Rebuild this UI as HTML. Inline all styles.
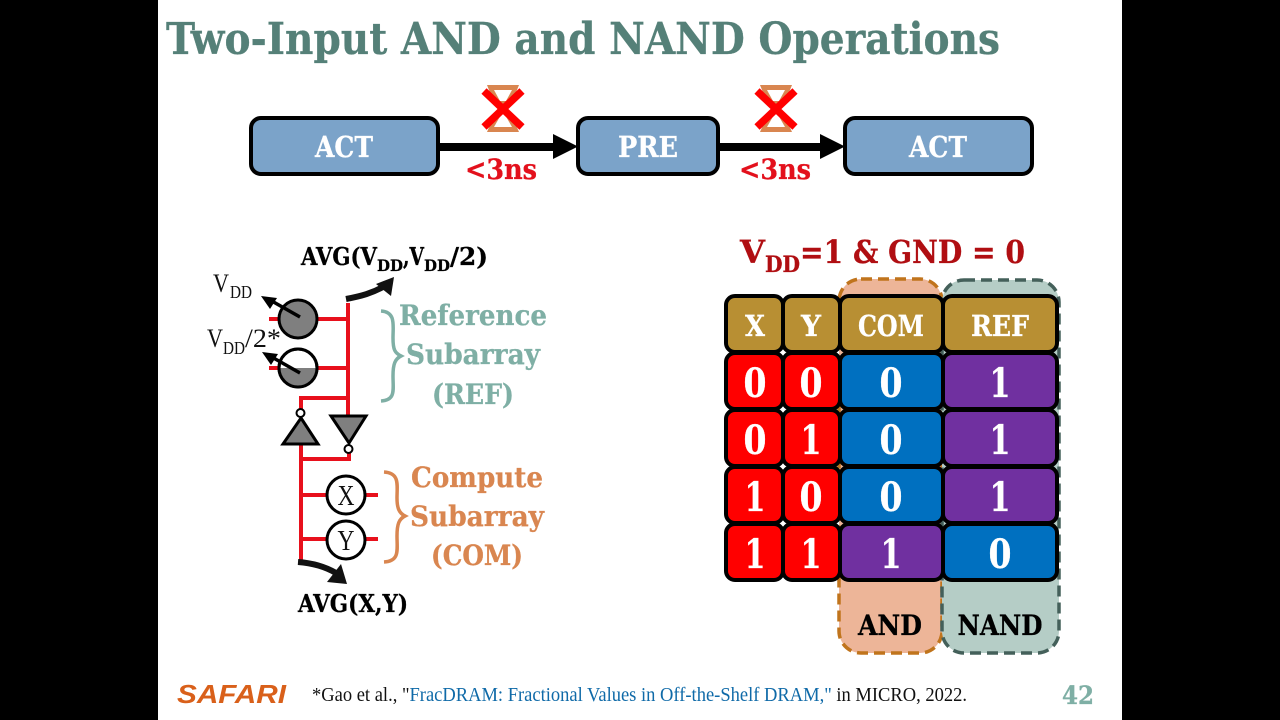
<!DOCTYPE html>
<html><head><meta charset="utf-8"><style>
html,body{margin:0;padding:0;background:#000;width:1280px;height:720px;overflow:hidden}
svg{display:block}
text{font-family:"Liberation Serif",serif}
g[font-weight="bold"] text,text[font-weight="bold"]{font-family:"DejaVu Serif","Liberation Serif",serif;stroke:currentColor;stroke-width:.3}
</style></head><body>
<svg width="1280" height="720" viewBox="0 0 1280 720" xmlns="http://www.w3.org/2000/svg">
<rect width="1280" height="720" fill="#000"/>
<rect x="158" y="0" width="964" height="720" fill="#fff"/>
<text font-weight="bold" x="166" y="54" font-size="44" fill="#558078" color="#558078" textLength="834" lengthAdjust="spacingAndGlyphs">Two-Input AND and NAND Operations</text>

<!-- top flow -->
<g stroke="#000" stroke-width="4" fill="#7BA3C9">
<rect x="251" y="118" width="187" height="56" rx="10"/>
<rect x="578" y="118" width="140" height="56" rx="10"/>
<rect x="845" y="118" width="187" height="56" rx="10"/>
</g>
<g font-size="29" fill="#fff" color="#fff" text-anchor="middle" font-weight="bold">
<text x="344" y="157" textLength="58" lengthAdjust="spacingAndGlyphs">ACT</text>
<text x="648" y="157" textLength="60" lengthAdjust="spacingAndGlyphs">PRE</text>
<text x="938" y="157" textLength="58" lengthAdjust="spacingAndGlyphs">ACT</text>
</g>
<rect x="438" y="143" width="118" height="8" fill="#000"/>
<polygon points="553,134 578,146.500 553,159" fill="#000"/>
<rect x="718" y="143" width="104" height="8" fill="#000"/>
<polygon points="820,134 845,146.500 820,159" fill="#000"/>
<g font-weight="bold" font-size="28" fill="#e3101c" color="#e3101c">
<text x="465" y="179" textLength="72" lengthAdjust="spacingAndGlyphs">&lt;3ns</text>
<text x="739" y="179" textLength="72" lengthAdjust="spacingAndGlyphs">&lt;3ns</text>
</g>
<defs>
<g id="hg">
<polygon points="-16,-24 16,-24 12,-14 3,-1 3,1 12,14 16,23 -16,23 -12,14 -3,1 -3,-1 -12,-14" fill="#D98650"/>
<polygon points="-9,-19 9,-19 3,-8 -3,-8" fill="#fff"/>
<polygon points="-1,4 1,4 9,18 -9,18" fill="#fff"/>
<path d="M-19,-18 L19,18 M19,-18 L-19,18" stroke="#f00" stroke-width="7.500"/>
</g>
</defs>
<use href="#hg" x="503" y="109"/>
<use href="#hg" x="776" y="109"/>

<!-- Left circuit -->
<g stroke="#e8101c" stroke-width="4" fill="none">
<path d="M348,303 V416"/>
<path d="M269,319 H348 M269,368 H348"/>
<path d="M301,410 V398 H348"/>
<path d="M301,442 V563"/>
<path d="M349,445 V459 H301"/>
<path d="M301,495 H378 M301,539 H378"/>
</g>
<circle cx="298" cy="319" r="19" fill="#7f7f7f" stroke="#000" stroke-width="3"/>
<circle cx="298" cy="368" r="19" fill="#fff" stroke="#000" stroke-width="3"/>
<path d="M279.500,368 A18.500,18.500 0 0 0 316.500,368 Z" fill="#7f7f7f"/>
<circle cx="298" cy="368" r="19" fill="none" stroke="#000" stroke-width="3"/>
<g stroke="#000" stroke-width="3.500" fill="#000">
<line x1="300" y1="317" x2="270" y2="300"/>
<line x1="300" y1="373" x2="270" y2="356"/>
</g>
<polygon points="261,296 277,298 270,309" fill="#000"/>
<polygon points="262,352 278,354 271,365" fill="#000"/>
<polygon points="301,418 318,444 283,444" fill="#7f7f7f" stroke="#000" stroke-width="3"/>
<circle cx="300.500" cy="413" r="4" fill="#fff" stroke="#000" stroke-width="2"/>
<polygon points="331,416 366,416 349,443" fill="#7f7f7f" stroke="#000" stroke-width="3"/>
<circle cx="348.500" cy="449" r="4" fill="#fff" stroke="#000" stroke-width="2"/>
<circle cx="346" cy="495" r="19" fill="#fff" stroke="#000" stroke-width="3"/>
<circle cx="346" cy="540" r="19" fill="#fff" stroke="#000" stroke-width="3"/>
<g font-size="29" fill="#111" text-anchor="middle">
<text x="346" y="505" textLength="17" lengthAdjust="spacingAndGlyphs">X</text>
<text x="346" y="550" textLength="17" lengthAdjust="spacingAndGlyphs">Y</text>
</g>
<path d="M346,299 C362,296 372,293 383,287" stroke="#111" stroke-width="6" fill="none"/>
<polygon points="394,277 391,296 376,284" fill="#111"/>
<path d="M298,562 C312,563 324,566 336,573" stroke="#111" stroke-width="6" fill="none"/>
<polygon points="347,584 327,582 341,564" fill="#111"/>

<g font-size="26" fill="#111">
<text x="213" y="292" textLength="16" lengthAdjust="spacingAndGlyphs">V</text>
<text x="230" y="298" font-size="18" textLength="22" lengthAdjust="spacingAndGlyphs">DD</text>
<text x="207" y="347" textLength="16" lengthAdjust="spacingAndGlyphs">V</text>
<text x="223" y="354" font-size="18" textLength="22" lengthAdjust="spacingAndGlyphs">DD</text>
<text x="245" y="347" textLength="36" lengthAdjust="spacingAndGlyphs">/2*</text>
</g>
<g font-weight="bold" fill="#000" color="#000">
<text x="301" y="265" font-size="24" textLength="76" lengthAdjust="spacingAndGlyphs">AVG(V</text>
<text x="377" y="271" font-size="16" textLength="26" lengthAdjust="spacingAndGlyphs">DD</text>
<text x="403" y="265" font-size="24" textLength="21" lengthAdjust="spacingAndGlyphs">,V</text>
<text x="424" y="271" font-size="16" textLength="26" lengthAdjust="spacingAndGlyphs">DD</text>
<text x="450" y="265" font-size="24" textLength="38" lengthAdjust="spacingAndGlyphs">/2)</text>
<text x="298" y="612" font-size="24" textLength="110" lengthAdjust="spacingAndGlyphs">AVG(X,Y)</text>
</g>

<!-- braces -->
<path d="M381,311 C396,312 393,325 393,338 C393,350 395,353 401,356 C395,359 393,364 393,376 C393,390 396,400 381,401" fill="none" stroke="#7FAFA5" stroke-width="3.500"/>
<path d="M384,472 C400,473 397,485 397,498 C397,508 399,513 405,516 C399,519 397,524 397,536 C397,550 400,561 384,562" fill="none" stroke="#D98650" stroke-width="3.500"/>
<g font-weight="bold" font-size="28" text-anchor="middle" fill="#7FAFA5" color="#7FAFA5">
<text x="473" y="325" textLength="148" lengthAdjust="spacingAndGlyphs">Reference</text>
<text x="473" y="364" textLength="134" lengthAdjust="spacingAndGlyphs">Subarray</text>
<text x="473" y="404" textLength="82" lengthAdjust="spacingAndGlyphs">(REF)</text>
</g>
<g font-weight="bold" font-size="28" text-anchor="middle" fill="#D98650" color="#D98650">
<text x="477" y="487" textLength="132" lengthAdjust="spacingAndGlyphs">Compute</text>
<text x="477" y="526" textLength="134" lengthAdjust="spacingAndGlyphs">Subarray</text>
<text x="477" y="565" textLength="92" lengthAdjust="spacingAndGlyphs">(COM)</text>
</g>

<!-- right heading -->
<g font-weight="bold" fill="#B00E12" color="#B00E12">
<text x="740" y="263" font-size="32" textLength="25" lengthAdjust="spacingAndGlyphs">V</text>
<text x="765" y="272" font-size="22" textLength="35" lengthAdjust="spacingAndGlyphs">DD</text>
<text x="800" y="263" font-size="32" textLength="225" lengthAdjust="spacingAndGlyphs">=1 &amp; GND = 0</text>
</g>

<!-- dashed columns -->
<rect x="839" y="279" width="103" height="374" rx="22" fill="#EDB598" stroke="#C0741C" stroke-width="3.500" stroke-dasharray="11 6"/>
<rect x="942" y="280" width="117" height="373" rx="22" fill="#B5CDC6" stroke="#44605A" stroke-width="3.500" stroke-dasharray="11 6"/>

<!-- table -->
<g stroke="#000" stroke-width="4">
<g fill="#B88F33">
<rect x="726" y="296" width="57" height="56" rx="9"/>
<rect x="783" y="296" width="57" height="56" rx="9"/>
<rect x="840" y="296" width="103" height="56" rx="9"/>
<rect x="943" y="296" width="114" height="56" rx="9"/>
</g>
<g fill="#f00">
<rect x="726" y="353" width="57" height="56" rx="9"/><rect x="783" y="353" width="57" height="56" rx="9"/>
<rect x="726" y="410" width="57" height="56" rx="9"/><rect x="783" y="410" width="57" height="56" rx="9"/>
<rect x="726" y="467" width="57" height="56" rx="9"/><rect x="783" y="467" width="57" height="56" rx="9"/>
<rect x="726" y="524" width="57" height="56" rx="9"/><rect x="783" y="524" width="57" height="56" rx="9"/>
</g>
<g fill="#0070C0">
<rect x="840" y="353" width="103" height="56" rx="9"/>
<rect x="840" y="410" width="103" height="56" rx="9"/>
<rect x="840" y="467" width="103" height="56" rx="9"/>
<rect x="943" y="524" width="114" height="56" rx="9"/>
</g>
<g fill="#7030A0">
<rect x="943" y="353" width="114" height="56" rx="9"/>
<rect x="943" y="410" width="114" height="56" rx="9"/>
<rect x="943" y="467" width="114" height="56" rx="9"/>
<rect x="840" y="524" width="103" height="56" rx="9"/>
</g>
</g>
<g font-weight="bold" font-size="29" fill="#fff" color="#fff" text-anchor="middle">
<text x="755" y="336" textLength="20" lengthAdjust="spacingAndGlyphs">X</text>
<text x="811" y="336" textLength="20" lengthAdjust="spacingAndGlyphs">Y</text>
<text x="891" y="336" textLength="66" lengthAdjust="spacingAndGlyphs">COM</text>
<text x="1000" y="336" textLength="58" lengthAdjust="spacingAndGlyphs">REF</text>
</g>
<g font-weight="bold" font-size="40" fill="#fff" color="#fff" text-anchor="middle">
<text x="755" y="397" textLength="23" lengthAdjust="spacingAndGlyphs">0</text><text x="811" y="397" textLength="23" lengthAdjust="spacingAndGlyphs">0</text><text x="891" y="397" textLength="23" lengthAdjust="spacingAndGlyphs">0</text><text x="1000" y="397" textLength="21" lengthAdjust="spacingAndGlyphs">1</text>
<text x="755" y="454" textLength="23" lengthAdjust="spacingAndGlyphs">0</text><text x="811" y="454" textLength="21" lengthAdjust="spacingAndGlyphs">1</text><text x="891" y="454" textLength="23" lengthAdjust="spacingAndGlyphs">0</text><text x="1000" y="454" textLength="21" lengthAdjust="spacingAndGlyphs">1</text>
<text x="755" y="511" textLength="21" lengthAdjust="spacingAndGlyphs">1</text><text x="811" y="511" textLength="23" lengthAdjust="spacingAndGlyphs">0</text><text x="891" y="511" textLength="23" lengthAdjust="spacingAndGlyphs">0</text><text x="1000" y="511" textLength="21" lengthAdjust="spacingAndGlyphs">1</text>
<text x="755" y="568" textLength="21" lengthAdjust="spacingAndGlyphs">1</text><text x="811" y="568" textLength="21" lengthAdjust="spacingAndGlyphs">1</text><text x="891" y="568" textLength="21" lengthAdjust="spacingAndGlyphs">1</text><text x="1000" y="568" textLength="23" lengthAdjust="spacingAndGlyphs">0</text>
</g>
<g font-weight="bold" font-size="28" fill="#000" color="#000" text-anchor="middle">
<text x="890" y="635" textLength="64" lengthAdjust="spacingAndGlyphs">AND</text>
<text x="1000" y="635" textLength="85" lengthAdjust="spacingAndGlyphs">NAND</text>
</g>

<!-- footer -->
<text x="177" y="703" style="font-family:'Liberation Sans',sans-serif;stroke:none" font-weight="bold" font-style="italic" font-size="26" fill="#D9601A" textLength="109" lengthAdjust="spacingAndGlyphs">SAFARI</text>
<text x="312" y="701" font-size="20" fill="#111" textLength="655" lengthAdjust="spacingAndGlyphs">*Gao et al., "<tspan fill="#0F6AA8">FracDRAM: Fractional Values in Off-the-Shelf DRAM,"</tspan> in MICRO, 2022.</text>
<text x="1062" y="704" font-weight="bold" font-size="25" fill="#7FAFA5" color="#7FAFA5" textLength="32" lengthAdjust="spacingAndGlyphs">42</text>
</svg>
</body></html>
